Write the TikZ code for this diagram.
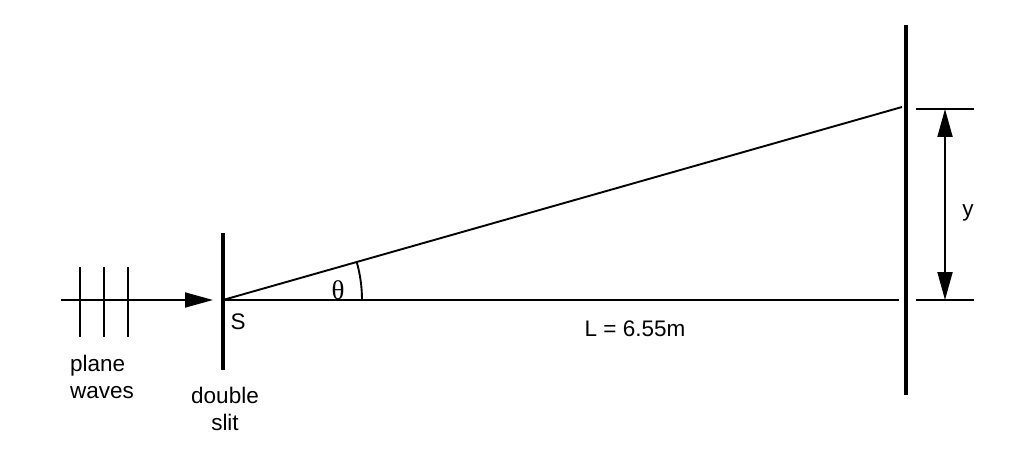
\documentclass[tikz,border=0pt]{standalone}
\usepackage{fontspec}
\setmainfont{Liberation Sans}
\newfontfamily\serifgr{Liberation Serif}
\usetikzlibrary{arrows.meta}
\begin{document}
\begin{tikzpicture}[x=1pt,y=-1pt,
  thin line/.style={line width=1.9pt},
  thick line/.style={line width=3.6pt},
  lbl/.style={font=\fontsize{22.5}{27}\selectfont, inner sep=0pt},
  bigtip/.style={-{Triangle[length=28pt,width=15pt]}}]
\useasboundingbox (0,0) rectangle (1024,462);
% key points
\coordinate (S) at (223,300);
\coordinate (in) at (61,300);
\coordinate (tip) at (213,300);
\coordinate (slitTop) at (223,233);
\coordinate (slitBot) at (223,370);
\coordinate (scrTop) at (906,25);
\coordinate (scrBot) at (906,395);
\coordinate (hitH) at (899,300);
\coordinate (hitS) at (902,107);
\coordinate (t1a) at (916,109);
\coordinate (t1b) at (974,109);
\coordinate (t2a) at (916,300);
\coordinate (t2b) at (974,300);
\coordinate (dA) at (945,109);
\coordinate (dB) at (945,300);
% incoming plane waves
\draw[thin line, bigtip] (in) -- (tip);
\foreach \x/\n in {80/w1,104/w2,128/w3}{
  \coordinate (\n a) at (\x,267);
  \coordinate (\n b) at (\x,337);
  \draw[thin line] (\n a) -- (\n b);
}
% slit and screen
\draw[thick line] (slitTop) -- (slitBot);
\draw[thick line] (scrTop) -- (scrBot);
% rays
\draw[thin line] (S) -- (hitH);
\draw[thin line] (S) -- (hitS);
% angle arc
\draw[thin line] (362,300) arc[start angle=0, end angle={-atan2(193,679)}, radius=139];
% dimension
\draw[thin line] (t1a) -- (t1b);
\draw[thin line] (t2a) -- (t2b);
\draw[thin line, {Triangle[length=28pt,width=15pt]}-{Triangle[length=28pt,width=15pt]}] (dA) -- (dB);
% labels
\node[lbl] (ylab) at (968,213) {y};
\node[lbl] (slab) at (238,322) {S};
\node[lbl] (llab) at (635,329) {L = 6.55m};
\node[lbl, font=\serifgr\fontsize{27}{30}\selectfont] (th) at (338,290) {θ};
\node[lbl, align=left, anchor=west] (pw) at (70,377) {plane\\waves};
\node[lbl, align=center] (ds) at (225,409) {double\\slit};
\end{tikzpicture}
\end{document}
